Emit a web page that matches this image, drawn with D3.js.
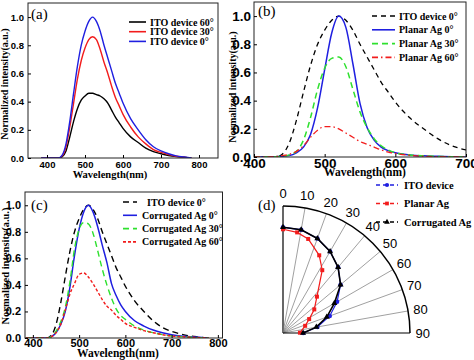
<!DOCTYPE html>
<html><head><meta charset="utf-8">
<script src="https://cdn.jsdelivr.net/npm/d3@7"></script>
<style>
html,body{margin:0;padding:0;background:#fff;}
svg{display:block;}
.tk{font-family:"Liberation Sans",Arial,sans-serif;font-weight:bold;fill:#000;}
.ttl{font-family:"Liberation Serif","Times New Roman",serif;font-weight:bold;fill:#000;}
.pl{font-family:"Liberation Serif","Times New Roman",serif;fill:#000;}
.pol{font-family:"Liberation Sans",Arial,sans-serif;fill:#000;}
</style></head>
<body><svg id="c" width="474" height="360"></svg>
<script>
// ---------------- DATA ----------------
const wlA = [385,430,440,450,460,470,480,490,500,510,520,530,540,550,560,570,580,590,600,620,640,660,680,700,720,740,760,780];
const ito0  = [0,0,0.02,0.10,0.26,0.46,0.65,0.80,0.90,0.97,1.0,0.97,0.90,0.80,0.71,0.62,0.53,0.46,0.39,0.28,0.20,0.13,0.08,0.05,0.03,0.015,0.007,0];
const ito30 = [0,0,0.015,0.08,0.22,0.39,0.56,0.69,0.78,0.84,0.86,0.84,0.77,0.68,0.60,0.51,0.43,0.37,0.31,0.22,0.15,0.10,0.06,0.04,0.025,0.012,0.006,0];
const ito60 = [0,0,0.01,0.05,0.15,0.26,0.35,0.41,0.44,0.46,0.46,0.45,0.44,0.42,0.39,0.34,0.29,0.25,0.21,0.15,0.11,0.07,0.045,0.03,0.018,0.01,0.005,0];

const wlB = [400,430,440,450,460,470,480,490,500,510,520,530,540,550,560,570,580,590,600,620,640,660,680,700];
const planar0  = [0,0.002,0.005,0.01,0.03,0.07,0.16,0.35,0.62,0.88,1.0,0.92,0.66,0.38,0.21,0.12,0.07,0.045,0.03,0.015,0.008,0.005,0.002,0];
const planar30 = [0,0.002,0.005,0.015,0.04,0.12,0.28,0.48,0.63,0.70,0.71,0.64,0.48,0.32,0.21,0.13,0.08,0.05,0.03,0.015,0.008,0.004,0.002,0];
const planar60 = [0,0.003,0.01,0.02,0.04,0.08,0.14,0.19,0.215,0.215,0.20,0.17,0.14,0.11,0.09,0.07,0.05,0.035,0.025,0.012,0.005,0.002,0.001,0];

const wlC = [385,430,440,450,460,470,480,490,500,510,520,530,540,550,560,570,580,590,600,620,640,660,680,700,720,740,760,780];
const corr0  = [0,0,0.01,0.04,0.10,0.20,0.38,0.62,0.82,0.95,1.0,0.95,0.84,0.70,0.57,0.41,0.32,0.25,0.20,0.13,0.09,0.06,0.04,0.025,0.015,0.01,0.005,0];
const corr30 = [0,0,0.01,0.05,0.12,0.23,0.42,0.67,0.82,0.87,0.86,0.79,0.66,0.52,0.40,0.30,0.22,0.17,0.14,0.09,0.06,0.04,0.025,0.015,0.01,0.006,0.003,0];
const corr60 = [0,0,0.01,0.04,0.10,0.21,0.33,0.41,0.48,0.49,0.46,0.41,0.35,0.29,0.24,0.21,0.17,0.14,0.11,0.08,0.055,0.04,0.025,0.015,0.01,0.006,0.003,0];

const angles = [0,10,20,30,40,50,60,70,80,90];
const polarITO  = [1.0,0.99,0.95,0.89,0.81,0.71,0.59,0.47,0.33,0.19];
const polarCorr = [1.0,0.99,0.95,0.89,0.81,0.71,0.56,0.44,0.32,0.19];
const anglesPlanar = [0,8,15,25,32,43,53,62,72,89];
const polarPlanar  = [0.98,0.96,0.92,0.81,0.70,0.47,0.37,0.28,0.22,0.16];

const yTicks = [0,0.2,0.4,0.6,0.8,1.0];
const xTicksA = [400,500,600,700,800];
const xTicksB = [400,500,600,700];
const xTicksC = [400,500,600,700,800];
const polarTicks = [0,10,20,30,40,50,60,70,80,90];

const BLUE="#1f1fe0", RED="#f21c1c", GREEN="#2ee02e", BLACK="#000";

// ---------------- DRAW ----------------
const svg = d3.select("#c");
const fmt = d3.format(".1f");

function panel(o){
  const g = svg.append("g");
  const x = d3.scaleLinear().domain(o.xd).range(o.xr);
  const y = d3.scaleLinear().domain([0,1.1]).range(o.yr);
  const id = "clip"+o.name;
  svg.append("clipPath").attr("id",id).append("rect")
    .attr("x",o.xr[0]).attr("y",o.yr[1]).attr("width",o.xr[1]-o.xr[0]).attr("height",o.yr[0]-o.yr[1]);
  o.series.forEach(s=>{
    const line = d3.line().x((d,i)=>x(s.wl[i])).y(d=>y(d)).curve(d3.curveMonotoneX);
    g.append("path").datum(s.v).attr("d",line).attr("fill","none")
      .attr("stroke",s.c).attr("stroke-width",s.w||1.4)
      .attr("stroke-dasharray",s.dash||null).attr("clip-path",`url(#${id})`);
  });
  g.append("rect").attr("x",o.xr[0]).attr("y",o.yr[1]).attr("width",o.xr[1]-o.xr[0]).attr("height",o.yr[0]-o.yr[1])
    .attr("fill","none").attr("stroke","#222").attr("stroke-width",1);
  const xa = g.append("g").attr("transform",`translate(0,${o.yr[0]})`)
    .call(d3.axisBottom(x).tickValues(o.xt).tickSizeInner(-3).tickSizeOuter(0).tickPadding(o.xpad).tickFormat(d3.format("d")));
  const ya = g.append("g").attr("transform",`translate(${o.xr[0]},0)`)
    .call(d3.axisLeft(y).tickValues(yTicks).tickSizeInner(-3).tickSizeOuter(0).tickPadding(o.ypad).tickFormat(fmt));
  [xa,ya].forEach(a=>{a.select(".domain").remove(); a.selectAll("text").attr("class","tk").attr("font-size",o.tfs).attr("font-family",null);});
  g.append("text").attr("class","ttl").attr("font-size",o.xtfs).attr("x",o.xt_pos[0]).attr("y",o.xt_pos[1])
    .attr("text-anchor","middle").text("Wavelength(nm)");
  g.append("text").attr("class","ttl").attr("font-size",o.ytfs).attr("transform",`translate(${o.yt_pos[0]},${o.yt_pos[1]}) rotate(-90)`)
    .attr("text-anchor","middle").text("Normalized intensity(a.u.)");
  g.append("text").attr("class","pl").attr("font-size",15).attr("x",o.lab[0]).attr("y",o.lab[1]).text(o.label);
  o.series.forEach((s,i)=>{
    if(!s.name) return;
    const ly = o.leg.y0 + i*o.leg.dy;
    g.append("line").attr("x1",o.leg.x1).attr("x2",o.leg.x2).attr("y1",ly).attr("y2",ly)
      .attr("stroke",s.c).attr("stroke-width",1.6).attr("stroke-dasharray",s.dash||null);
    g.append("text").attr("class","ttl").attr("font-size",o.leg.fs).attr("x",o.leg.tx+(s.dx||0)).attr("y",ly+3.5).text(s.name);
  });
  return {x,y};
}

panel({name:"a", xd:[350,850], xr:[28,218], yr:[158,3], xt:xTicksA, tfs:9.5, xpad:3, ypad:4,
  xtfs:10.5, ytfs:10, xt_pos:[110,178], yt_pos:[8,84], lab:[31,19], label:"(a)",
  leg:{x1:129,x2:146,tx:150,y0:22,dy:9.7,fs:10},
  series:[
    {wl:wlA,v:ito60,c:BLACK,name:"ITO device 60°"},
    {wl:wlA,v:ito30,c:RED,name:"ITO device 30°"},
    {wl:wlA,v:ito0,c:BLUE,name:"ITO device 0°"}]});

panel({name:"b", xd:[400,700], xr:[254,466], yr:[157,2], xt:xTicksB, tfs:13.5, xpad:1, ypad:3,
  xtfs:11.5, ytfs:10, xt_pos:[365,176], yt_pos:[236,87], lab:[258,16], label:"(b)",
  leg:{x1:372,x2:395,tx:399,y0:16,dy:13.8,fs:10},
  series:[
    {wl:wlA,v:ito0,c:BLACK,dash:"5,4",name:"ITO device 0°",w:1.3},
    {wl:wlB,v:planar0,c:BLUE,name:"Planar Ag 0°",w:1.5},
    {wl:wlB,v:planar30,c:GREEN,dash:"6,4",name:"Planar Ag 30°",w:1.5},
    {wl:wlB,v:planar60,c:RED,dash:"6,3,1.5,3",name:"Planar Ag 60°",w:1.3}]});

panel({name:"c", xd:[383,810], xr:[25,222.5], yr:[338,192], xt:xTicksC, tfs:11, xpad:1, ypad:4,
  xtfs:11.5, ytfs:10.5, xt_pos:[118,357], yt_pos:[8.5,266], lab:[31,210], label:"(c)",
  leg:{x1:123,x2:137,tx:142,y0:202,dy:13.3,fs:10},
  series:[
    {wl:wlA,v:ito0,c:BLACK,dash:"6,4",name:"ITO device 0°",dx:5,w:1.4},
    {wl:wlC,v:corr0,c:BLUE,name:"Corrugated Ag 0°",w:1.5},
    {wl:wlC,v:corr30,c:GREEN,dash:"6,4",name:"Corrugated Ag 30°",w:1.4},
    {wl:wlC,v:corr60,c:RED,dash:"3,2",name:"Corrugated Ag 60°",w:1.4}]});

// ---------------- POLAR (d) ----------------
{
  const cx=283, cy=333, R=127;
  const g = svg.append("g").attr("transform",`translate(${cx},${cy})`);
  const a = d3.scaleLinear().domain([0,90]).range([0,Math.PI/2]);
  const r = d3.scaleLinear().domain([0,1.2]).range([0,R]);
  const px = (ang,rad)=>r(rad)*Math.sin(a(ang));
  const py = (ang,rad)=>-r(rad)*Math.cos(a(ang));
  polarTicks.forEach(t=>{
    g.append("line").attr("x1",0).attr("y1",0).attr("x2",px(t,1.2)).attr("y2",py(t,1.2))
      .attr("stroke",(t===0||t===90)?"#000":"#777").attr("stroke-width",(t===0||t===90)?1.2:0.7);
    g.append("text").attr("class","pol").attr("font-size",13).attr("text-anchor","middle")
      .attr("x",px(t,1.32)).attr("y",py(t,1.32)+5).text(t);
  });
  const arc = d3.arc().innerRadius(R).outerRadius(R).startAngle(0).endAngle(Math.PI/2);
  g.append("path").attr("d",arc()).attr("fill","none").attr("stroke","#000").attr("stroke-width",1.5);
  const sym = m => d3.symbol().type(m==="circle"?d3.symbolCircle:m==="square"?d3.symbolSquare:d3.symbolTriangle);
  const sets = [
    {ang:angles,v:polarITO,c:BLUE,m:"circle",name:"ITO device"},
    {ang:anglesPlanar,v:polarPlanar,c:RED,m:"square",name:"Planar Ag"},
    {ang:angles,v:polarCorr,c:BLACK,m:"triangle",name:"Corrugated Ag"}];
  sets.forEach(s=>{
    const ln = d3.line().x((d,i)=>px(s.ang[i],d)).y((d,i)=>py(s.ang[i],d));
    g.append("path").attr("d",ln(s.v)).attr("fill","none").attr("stroke",s.c).attr("stroke-width",s.c===BLACK?1.6:1.2);
    s.v.forEach((d,i)=>{
      g.append("path").attr("transform",`translate(${px(s.ang[i],d)},${py(s.ang[i],d)})`)
        .attr("d",sym(s.m).size(16)()).attr("fill",s.c);
    });
  });
  sets.forEach((s,i)=>{
    const ly = 185 + i*18.5;
    svg.append("line").attr("x1",376).attr("x2",398).attr("y1",ly).attr("y2",ly)
      .attr("stroke",s.c).attr("stroke-width",1.5).attr("stroke-dasharray","4,3");
    svg.append("path").attr("transform",`translate(387,${ly})`)
      .attr("d",sym(s.m).size(14)()).attr("fill",s.c);
    svg.append("text").attr("class","ttl").attr("font-size",10.5).attr("x",404).attr("y",ly+3.5).text(s.name);
  });
  svg.append("text").attr("class","pl").attr("font-size",15).attr("x",258).attr("y",210).text("(d)");
}
</script></body></html>
